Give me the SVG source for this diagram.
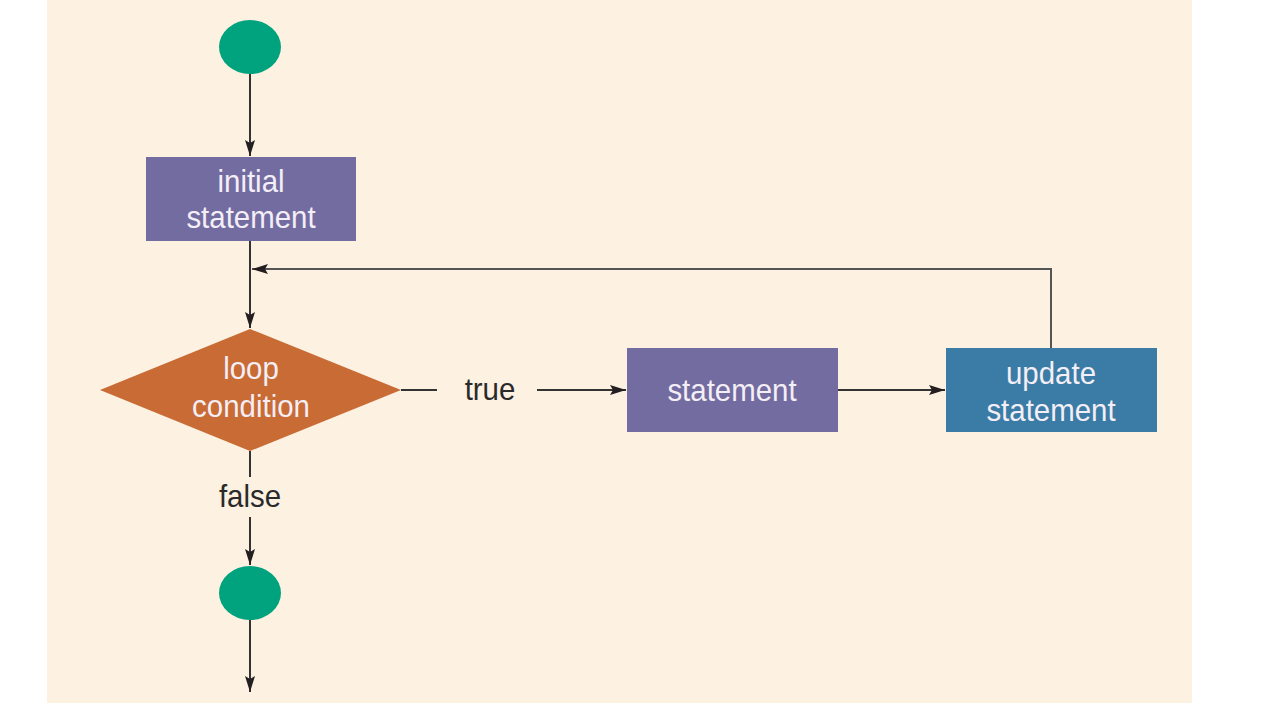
<svg xmlns="http://www.w3.org/2000/svg" width="1265" height="716" viewBox="0 0 1265 716">
<style>
.lbl{font-family:"Liberation Sans",Arial,sans-serif;font-size:32px;fill:#f4eef6;text-anchor:middle;}
.dk{fill:#2a2a2a;}
.ln{stroke:#333;stroke-width:2;fill:none;}
</style>
<defs>
<marker id="ah" viewBox="0 0 16 10" refX="16" refY="5" markerWidth="16" markerHeight="10" markerUnits="userSpaceOnUse" orient="auto">
<path d="M0,0 L16,5 L0,10 L3,5 Z" fill="#231f20"/>
</marker>
</defs>
<rect x="0" y="0" width="1265" height="716" fill="#ffffff"/>
<rect x="47" y="0" width="1145" height="703" fill="#fdf1e2"/>
<g id="connectors">
<line class="ln" x1="250" y1="74" x2="250" y2="156" marker-end="url(#ah)"/>
<line class="ln" x1="250" y1="241" x2="250" y2="328" marker-end="url(#ah)"/>
<polyline class="ln" points="1051,348 1051,269 252,269" marker-end="url(#ah)" style="stroke:#555"/>
<line class="ln" x1="401" y1="390" x2="437" y2="390"/>
<line class="ln" x1="537" y1="390" x2="626" y2="390" marker-end="url(#ah)"/>
<line class="ln" x1="838" y1="390" x2="945" y2="390" marker-end="url(#ah)"/>
<line class="ln" x1="250" y1="451" x2="250" y2="477"/>
<line class="ln" x1="250" y1="517" x2="250" y2="565" marker-end="url(#ah)"/>
<line class="ln" x1="250" y1="620" x2="250" y2="692" marker-end="url(#ah)"/>
<text class="lbl dk" transform="translate(490,400) scale(0.92,1)">true</text>
<text class="lbl dk" transform="translate(250,507) scale(0.92,1)">false</text>
</g>
<g id="start"><ellipse cx="250" cy="47" rx="31" ry="27" fill="#00a37e"/></g>
<g id="initial">
<rect x="146" y="157" width="210" height="84" fill="#726ca0"/>
<text class="lbl" transform="translate(251,192) scale(0.92,1)">initial</text>
<text class="lbl" transform="translate(251,228) scale(0.92,1)">statement</text>
</g>
<g id="condition">
<polygon points="100,390 250,329 401,390 250,451" fill="#c86b34"/>
<text class="lbl" transform="translate(251,379) scale(0.92,1)">loop</text>
<text class="lbl" transform="translate(251,417) scale(0.92,1)">condition</text>
</g>
<g id="statement">
<rect x="627" y="348" width="211" height="84" fill="#726ca0"/>
<text class="lbl" transform="translate(732,401) scale(0.92,1)">statement</text>
</g>
<g id="update">
<rect x="946" y="348" width="211" height="84" fill="#3a7ca5"/>
<text class="lbl" transform="translate(1051,384) scale(0.92,1)">update</text>
<text class="lbl" transform="translate(1051,421) scale(0.92,1)">statement</text>
</g>
<g id="end"><ellipse cx="250" cy="593" rx="31" ry="27" fill="#00a37e"/></g>
</svg>
